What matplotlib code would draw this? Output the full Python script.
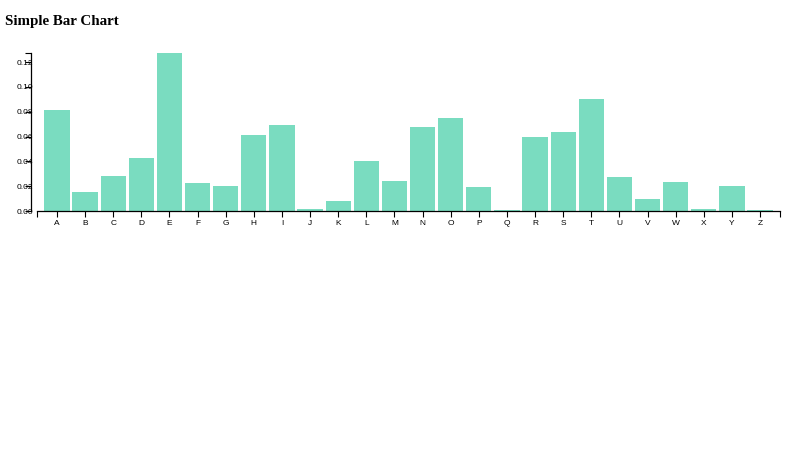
import matplotlib.pyplot as plt

# Частоти літер англійської абетки
letters = list("ABCDEFGHIJKLMNOPQRSTUVWXYZ")
freqs = [0.08167, 0.01492, 0.02782, 0.04253, 0.12702, 0.02288, 0.02015,
         0.06094, 0.06966, 0.00153, 0.00772, 0.04025, 0.02406, 0.06749,
         0.07507, 0.01929, 0.00095, 0.05987, 0.06327, 0.09056, 0.02758,
         0.00978, 0.02360, 0.00150, 0.01974, 0.00074]
y_ticks = [0.00, 0.02, 0.04, 0.06, 0.08, 0.10, 0.12]

plt.rcParams['font.family'] = ['Liberation Sans', 'DejaVu Sans']

fig = plt.figure(figsize=(8, 4.5), dpi=100)
ax = fig.add_axes([37 / 800, 1 - 211 / 450, (780 - 37) / 800, (211 - 53.3) / 450])

pos = list(range(len(letters)))
ax.bar(pos, freqs, width=0.9, color='#7adcc0')

xmin, xmax = -0.71, 25.71
ax.set_xlim(xmin, xmax)
ax.set_ylim(0, max(freqs))

ax.spines['top'].set_visible(False)
ax.spines['right'].set_visible(False)
ax.spines['left'].set_position(('outward', 4.3))
for s in ('left', 'bottom'):
    ax.spines[s].set_linewidth(0.9)
    ax.spines[s].set_color('black')

ax.set_xticks(pos)
ax.set_xticklabels(letters)
ax.set_xticks([xmin, xmax], minor=True)
ax.set_yticks(y_ticks)
ax.set_yticklabels([f"{v:.2f}" for v in y_ticks])
ax.set_yticks([0, max(freqs)], minor=True)

ax.tick_params(axis='x', which='both', length=4.3, width=0.8, labelsize=6, pad=2)
ax.tick_params(axis='y', which='both', length=4.3, width=0.8, labelsize=6, pad=-5.8)
ax.tick_params(axis='both', which='minor', labelleft=False, labelbottom=False)

fig.text(5 / 800, 1 - 21 / 450, "Simple Bar Chart", fontsize=10.8, fontweight='bold',
         family='Liberation Serif', va='center', ha='left')

fig.savefig('out.png', dpi=100)
